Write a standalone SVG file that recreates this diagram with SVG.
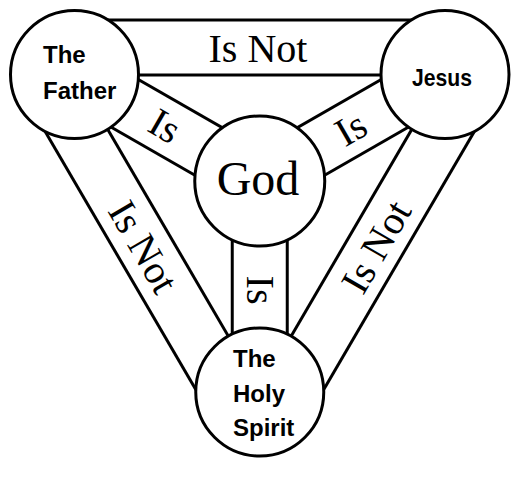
<svg xmlns="http://www.w3.org/2000/svg" width="530" height="482" viewBox="0 0 530 482">
<style>
.band{stroke:#000;stroke-width:3;fill:none}
.node{fill:#fff;stroke:#000;stroke-width:3}
.rel{font-family:"Liberation Serif","Times New Roman",serif;font-size:40px;fill:#000}
.god{font-family:"Liberation Serif","Times New Roman",serif;font-size:48px;fill:#000}
.lbl{font-family:"Liberation Sans",Arial,sans-serif;font-size:24px;font-weight:bold;fill:#000}
</style>
<rect width="530" height="482" fill="#fff"/>
<g id="connectors">
  <g id="father-jesus">
    <line class="band" x1="74.5" y1="20" x2="445" y2="20"/>
    <line class="band" x1="74.5" y1="75" x2="445" y2="75"/>
    <text class="rel" x="258" y="62" text-anchor="middle">Is Not</text>
  </g>
  <g id="father-god">
    <line class="band" x1="88.2" y1="50.7" x2="273.7" y2="157.2"/>
    <line class="band" x1="60.8" y1="98.3" x2="246.3" y2="204.8"/>
    <text class="rel" transform="translate(164.7,126.3) rotate(30)" x="0" y="13" text-anchor="middle">Is</text>
  </g>
  <g id="jesus-god">
    <line class="band" x1="431.3" y1="50.7" x2="245.8" y2="157.2"/>
    <line class="band" x1="458.7" y1="98.3" x2="273.2" y2="204.8"/>
    <text class="rel" transform="translate(351,129) rotate(-30)" x="0" y="13" text-anchor="middle">Is</text>
  </g>
  <g id="god-spirit">
    <line class="band" x1="232.25" y1="181" x2="232.25" y2="392"/>
    <line class="band" x1="287.25" y1="181" x2="287.25" y2="392"/>
    <text class="rel" transform="translate(260,290) rotate(90)" x="0" y="13" text-anchor="middle">Is</text>
  </g>
  <g id="father-spirit">
    <line class="band" x1="75.4" y1="74" x2="260.6" y2="391.5"/>
    <line class="band" x1="27.8" y1="101.7" x2="213.1" y2="419.2"/>
    <text class="rel" transform="translate(143,247) rotate(60)" x="0" y="13" text-anchor="middle">Is Not</text>
  </g>
  <g id="jesus-spirit">
    <line class="band" x1="444.1" y1="74" x2="258.9" y2="391.5"/>
    <line class="band" x1="491.7" y1="101.7" x2="306.4" y2="419.2"/>
    <text class="rel" transform="translate(376.5,247) rotate(-60)" x="0" y="13" text-anchor="middle">Is Not</text>
  </g>
</g>
<g id="father">
  <circle class="node" cx="74.5" cy="74.5" r="64"/>
  <text class="lbl" x="43" y="63">The</text>
  <text class="lbl" x="43" y="98.5">Father</text>
</g>
<g id="jesus">
  <circle class="node" cx="445" cy="74.5" r="64"/>
  <text class="lbl" x="412" y="86" textLength="60" lengthAdjust="spacingAndGlyphs">Jesus</text>
</g>
<g id="god">
  <circle class="node" cx="259.75" cy="181" r="65"/>
  <text class="god" x="258" y="195" text-anchor="middle">God</text>
</g>
<g id="holy-spirit">
  <circle class="node" cx="259.75" cy="392" r="64"/>
  <text class="lbl" x="233" y="367">The</text>
  <text class="lbl" x="233" y="402">Holy</text>
  <text class="lbl" x="233" y="436">Spirit</text>
</g>
</svg>
